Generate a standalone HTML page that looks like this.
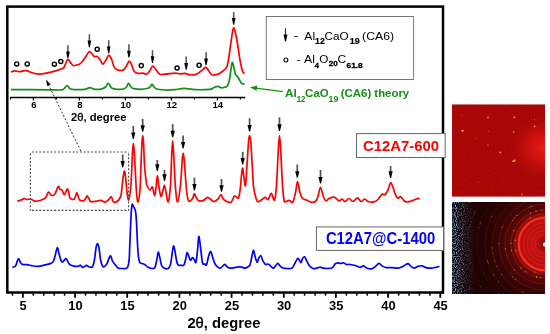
<!DOCTYPE html>
<html><head><meta charset="utf-8"><title>XRD</title>
<style>
html,body{margin:0;padding:0;background:#fff;}
body{width:550px;height:334px;overflow:hidden;}
svg{display:block;font-family:"Liberation Sans",Arial,sans-serif;}
</style></head><body>
<svg width="550" height="334" viewBox="0 0 550 334">
<defs>
<radialGradient id="glow1" cx="543" cy="148" r="34" gradientUnits="userSpaceOnUse">
<stop offset="0" stop-color="#ee1a14" stop-opacity="0.95"/>
<stop offset="0.5" stop-color="#d81410" stop-opacity="0.6"/>
<stop offset="1" stop-color="#a80606" stop-opacity="0"/>
</radialGradient>
<radialGradient id="rings" cx="545" cy="244" r="110" gradientUnits="userSpaceOnUse">
<stop offset="0" stop-color="#600606"/>
<stop offset="0.05" stop-color="#a80f0e"/>
<stop offset="0.1" stop-color="#c01210"/>
<stop offset="0.22" stop-color="#bc1010"/>
<stop offset="0.24" stop-color="#e01a14"/>
<stop offset="0.26" stop-color="#8a0c0a"/>
<stop offset="0.3" stop-color="#5a0808"/>
<stop offset="0.4" stop-color="#3a0606"/>
<stop offset="0.55" stop-color="#260404"/>
<stop offset="0.8" stop-color="#1a0303"/>
<stop offset="1" stop-color="#120303"/>
</radialGradient>
<linearGradient id="leftfade" x1="452" y1="0" x2="476" y2="0" gradientUnits="userSpaceOnUse">
<stop offset="0" stop-color="#fff" stop-opacity="1"/>
<stop offset="0.2" stop-color="#fff" stop-opacity="0.8"/>
<stop offset="0.5" stop-color="#fff" stop-opacity="0.4"/>
<stop offset="1" stop-color="#fff" stop-opacity="0"/>
</linearGradient>
<mask id="lmask"><rect x="452" y="202" width="30" height="92" fill="url(#leftfade)"/></mask>
<filter id="noise" x="0" y="0" width="100%" height="100%" color-interpolation-filters="sRGB">
<feTurbulence type="fractalNoise" baseFrequency="0.85" numOctaves="1" seed="4" result="t"/>
<feColorMatrix in="t" type="matrix" values="2.2 0 0 0 -0.95  2.4 0 0 0 -1.0  2.7 0 0 0 -1.08  0 0 0 0 1"/>
</filter>
<filter id="noise2" x="0" y="0" width="100%" height="100%" color-interpolation-filters="sRGB">
<feTurbulence type="fractalNoise" baseFrequency="0.7" numOctaves="1" seed="9" result="t"/>
<feColorMatrix in="t" type="matrix" values="0 0 0 0 1  0 0 0 0 0.3  0 0 0 0 0.2  1.2 0 0 0 -0.55"/>
</filter>
<clipPath id="clip2"><rect x="452" y="202" width="93" height="92"/></clipPath>
<clipPath id="clip1"><rect x="452" y="104.3" width="93" height="92.5"/></clipPath>
</defs>

<rect x="7.3" y="6.6" width="435.7" height="285.9" fill="none" stroke="#000" stroke-width="2.5"/>
<line x1="12.5" y1="292" x2="12.5" y2="295.7" stroke="#000" stroke-width="1.5"/><line x1="22.9" y1="292" x2="22.9" y2="297.8" stroke="#000" stroke-width="1.8"/><line x1="33.3" y1="292" x2="33.3" y2="295.7" stroke="#000" stroke-width="1.5"/><line x1="43.8" y1="292" x2="43.8" y2="295.7" stroke="#000" stroke-width="1.5"/><line x1="54.2" y1="292" x2="54.2" y2="295.7" stroke="#000" stroke-width="1.5"/><line x1="64.6" y1="292" x2="64.6" y2="295.7" stroke="#000" stroke-width="1.5"/><line x1="75.1" y1="292" x2="75.1" y2="297.8" stroke="#000" stroke-width="1.8"/><line x1="85.5" y1="292" x2="85.5" y2="295.7" stroke="#000" stroke-width="1.5"/><line x1="95.9" y1="292" x2="95.9" y2="295.7" stroke="#000" stroke-width="1.5"/><line x1="106.4" y1="292" x2="106.4" y2="295.7" stroke="#000" stroke-width="1.5"/><line x1="116.8" y1="292" x2="116.8" y2="295.7" stroke="#000" stroke-width="1.5"/><line x1="127.2" y1="292" x2="127.2" y2="297.8" stroke="#000" stroke-width="1.8"/><line x1="137.7" y1="292" x2="137.7" y2="295.7" stroke="#000" stroke-width="1.5"/><line x1="148.1" y1="292" x2="148.1" y2="295.7" stroke="#000" stroke-width="1.5"/><line x1="158.6" y1="292" x2="158.6" y2="295.7" stroke="#000" stroke-width="1.5"/><line x1="169.0" y1="292" x2="169.0" y2="295.7" stroke="#000" stroke-width="1.5"/><line x1="179.4" y1="292" x2="179.4" y2="297.8" stroke="#000" stroke-width="1.8"/><line x1="189.9" y1="292" x2="189.9" y2="295.7" stroke="#000" stroke-width="1.5"/><line x1="200.3" y1="292" x2="200.3" y2="295.7" stroke="#000" stroke-width="1.5"/><line x1="210.7" y1="292" x2="210.7" y2="295.7" stroke="#000" stroke-width="1.5"/><line x1="221.2" y1="292" x2="221.2" y2="295.7" stroke="#000" stroke-width="1.5"/><line x1="231.6" y1="292" x2="231.6" y2="297.8" stroke="#000" stroke-width="1.8"/><line x1="242.0" y1="292" x2="242.0" y2="295.7" stroke="#000" stroke-width="1.5"/><line x1="252.5" y1="292" x2="252.5" y2="295.7" stroke="#000" stroke-width="1.5"/><line x1="262.9" y1="292" x2="262.9" y2="295.7" stroke="#000" stroke-width="1.5"/><line x1="273.3" y1="292" x2="273.3" y2="295.7" stroke="#000" stroke-width="1.5"/><line x1="283.8" y1="292" x2="283.8" y2="297.8" stroke="#000" stroke-width="1.8"/><line x1="294.2" y1="292" x2="294.2" y2="295.7" stroke="#000" stroke-width="1.5"/><line x1="304.6" y1="292" x2="304.6" y2="295.7" stroke="#000" stroke-width="1.5"/><line x1="315.1" y1="292" x2="315.1" y2="295.7" stroke="#000" stroke-width="1.5"/><line x1="325.5" y1="292" x2="325.5" y2="295.7" stroke="#000" stroke-width="1.5"/><line x1="335.9" y1="292" x2="335.9" y2="297.8" stroke="#000" stroke-width="1.8"/><line x1="346.4" y1="292" x2="346.4" y2="295.7" stroke="#000" stroke-width="1.5"/><line x1="356.8" y1="292" x2="356.8" y2="295.7" stroke="#000" stroke-width="1.5"/><line x1="367.3" y1="292" x2="367.3" y2="295.7" stroke="#000" stroke-width="1.5"/><line x1="377.7" y1="292" x2="377.7" y2="295.7" stroke="#000" stroke-width="1.5"/><line x1="388.1" y1="292" x2="388.1" y2="297.8" stroke="#000" stroke-width="1.8"/><line x1="398.6" y1="292" x2="398.6" y2="295.7" stroke="#000" stroke-width="1.5"/><line x1="409.0" y1="292" x2="409.0" y2="295.7" stroke="#000" stroke-width="1.5"/><line x1="419.4" y1="292" x2="419.4" y2="295.7" stroke="#000" stroke-width="1.5"/><line x1="429.9" y1="292" x2="429.9" y2="295.7" stroke="#000" stroke-width="1.5"/><line x1="440.3" y1="292" x2="440.3" y2="297.8" stroke="#000" stroke-width="1.8"/>
<text x="23.2" y="310" text-anchor="middle" font-size="12.9" font-weight="bold">5</text><text x="75.4" y="310" text-anchor="middle" font-size="12.9" font-weight="bold">10</text><text x="127.5" y="310" text-anchor="middle" font-size="12.9" font-weight="bold">15</text><text x="179.7" y="310" text-anchor="middle" font-size="12.9" font-weight="bold">20</text><text x="231.9" y="310" text-anchor="middle" font-size="12.9" font-weight="bold">25</text><text x="284.1" y="310" text-anchor="middle" font-size="12.9" font-weight="bold">30</text><text x="336.2" y="310" text-anchor="middle" font-size="12.9" font-weight="bold">35</text><text x="388.4" y="310" text-anchor="middle" font-size="12.9" font-weight="bold">40</text><text x="440.6" y="310" text-anchor="middle" font-size="12.9" font-weight="bold">45</text>
<text x="187.39" y="327.70" font-size="14.80" font-weight="bold" fill="#000" textLength="73.02" lengthAdjust="spacingAndGlyphs">2<tspan font-weight="normal" stroke="#000" stroke-width="0.35">&#952;</tspan>, degree</text>
<line x1="10.4" y1="97.5" x2="245.3" y2="97.5" stroke="#000" stroke-width="1.4"/>
<line x1="10.4" y1="97" x2="10.4" y2="99.6" stroke="#000" stroke-width="1.1"/><line x1="33.4" y1="97" x2="33.4" y2="100.4" stroke="#000" stroke-width="1.2"/><line x1="56.4" y1="97" x2="56.4" y2="99.6" stroke="#000" stroke-width="1.1"/><line x1="79.4" y1="97" x2="79.4" y2="100.4" stroke="#000" stroke-width="1.2"/><line x1="102.4" y1="97" x2="102.4" y2="99.6" stroke="#000" stroke-width="1.1"/><line x1="125.4" y1="97" x2="125.4" y2="100.4" stroke="#000" stroke-width="1.2"/><line x1="148.4" y1="97" x2="148.4" y2="99.6" stroke="#000" stroke-width="1.1"/><line x1="171.4" y1="97" x2="171.4" y2="100.4" stroke="#000" stroke-width="1.2"/><line x1="194.4" y1="97" x2="194.4" y2="99.6" stroke="#000" stroke-width="1.1"/><line x1="217.4" y1="97" x2="217.4" y2="100.4" stroke="#000" stroke-width="1.2"/><line x1="240.4" y1="97" x2="240.4" y2="99.6" stroke="#000" stroke-width="1.1"/>
<text x="33.8" y="108.4" text-anchor="middle" font-size="9.6" font-weight="bold">6</text><text x="79.8" y="108.4" text-anchor="middle" font-size="9.6" font-weight="bold">8</text><text x="125.8" y="108.4" text-anchor="middle" font-size="9.6" font-weight="bold">10</text><text x="171.8" y="108.4" text-anchor="middle" font-size="9.6" font-weight="bold">12</text><text x="217.8" y="108.4" text-anchor="middle" font-size="9.6" font-weight="bold">14</text>
<text x="70.91" y="121.20" font-size="11.60" font-weight="bold" fill="#000" textLength="55.68" lengthAdjust="spacingAndGlyphs">2<tspan font-weight="normal" stroke="#000" stroke-width="0.35">&#952;</tspan>, degree</text>
<path d="M17.3,201.3 C17.9,201.1 19.8,200.4 21.0,200.0 C22.2,199.6 23.3,198.8 24.3,198.7 C25.3,198.6 26.0,199.4 27.0,199.5 C28.0,199.6 29.3,198.9 30.3,199.0 C31.3,199.1 32.1,199.9 33.0,200.3 C33.9,200.7 34.4,201.3 35.6,201.3 C36.8,201.3 38.8,200.8 40.0,200.5 C41.2,200.2 42.0,199.8 43.0,199.3 C44.0,198.8 44.9,198.8 45.8,197.6 C46.7,196.4 47.6,192.4 48.5,192.0 C49.4,191.6 50.2,194.9 51.2,195.3 C52.2,195.7 53.8,195.2 54.7,194.3 C55.6,193.5 55.9,191.5 56.5,190.2 C57.1,188.9 57.8,186.5 58.4,186.4 C59.0,186.3 59.5,188.9 60.1,189.5 C60.7,190.1 61.4,189.3 62.1,190.2 C62.8,191.1 63.5,194.9 64.4,194.7 C65.3,194.5 66.5,189.1 67.3,188.9 C68.0,188.7 68.4,192.0 68.9,193.6 C69.4,195.2 69.3,197.4 70.2,198.3 C71.1,199.2 73.2,199.9 74.3,199.0 C75.4,198.1 76.0,193.2 76.7,192.9 C77.4,192.6 77.8,195.8 78.3,197.0 C78.8,198.2 79.0,199.7 79.9,200.3 C80.8,200.9 82.8,200.9 83.7,200.7 C84.6,200.5 84.7,199.8 85.3,199.0 C85.9,198.2 86.5,195.9 87.1,195.9 C87.7,195.9 88.4,198.0 89.1,199.0 C89.8,200.0 89.8,201.4 91.1,201.7 C92.4,202.0 95.5,201.2 97.2,201.0 C98.9,200.8 99.7,200.2 101.0,200.4 C102.3,200.6 103.7,202.4 105.0,202.2 C106.3,202.0 108.0,200.1 109.0,199.2 C110.0,198.3 110.6,196.4 111.3,196.7 C112.0,197.0 112.4,200.2 113.0,201.2 C113.6,202.1 114.1,202.6 115.0,202.4 C115.9,202.2 117.5,201.3 118.5,200.1 C119.5,198.9 120.3,198.1 121.0,195.2 C121.7,192.3 122.0,186.5 122.5,182.5 C123.0,178.5 123.7,172.2 124.2,171.2 C124.7,170.2 125.1,173.4 125.5,176.5 C125.9,179.6 126.3,186.0 126.8,190.0 C127.3,194.0 127.9,200.4 128.5,200.4 C129.1,200.4 130.0,194.2 130.5,190.0 C131.0,185.8 131.2,181.3 131.5,175.0 C131.8,168.7 132.2,157.3 132.5,152.0 C132.8,146.7 133.0,143.3 133.3,143.3 C133.6,143.3 133.9,146.7 134.3,152.0 C134.7,157.3 135.1,168.3 135.5,175.0 C135.9,181.7 136.1,187.5 136.5,192.0 C136.9,196.5 137.4,202.2 138.0,201.9 C138.6,201.6 139.5,196.2 140.0,190.0 C140.5,183.8 140.7,173.0 141.0,165.0 C141.3,157.0 141.7,146.9 142.0,142.0 C142.3,137.1 142.4,135.5 142.7,135.5 C142.9,135.5 143.2,137.1 143.5,142.0 C143.8,146.9 144.1,158.7 144.5,165.0 C144.9,171.3 145.6,176.6 146.0,180.0 C146.4,183.4 146.3,183.8 147.0,185.5 C147.7,187.2 149.1,189.8 150.0,190.0 C150.9,190.2 151.8,186.1 152.5,187.0 C153.2,187.9 153.9,195.3 154.5,195.5 C155.1,195.7 155.5,191.2 156.0,188.0 C156.5,184.8 156.8,176.3 157.3,176.0 C157.8,175.7 158.2,182.6 158.8,186.0 C159.4,189.4 160.3,195.7 161.0,196.4 C161.7,197.1 162.4,191.8 163.0,190.0 C163.6,188.2 164.0,185.2 164.5,185.5 C165.0,185.8 165.4,189.3 166.0,192.0 C166.6,194.7 167.4,203.0 168.2,201.8 C168.9,200.6 169.9,192.8 170.5,185.0 C171.1,177.2 171.3,162.3 171.7,155.0 C172.1,147.7 172.4,140.9 172.7,140.9 C173.0,140.9 173.2,147.2 173.7,155.0 C174.2,162.8 174.8,180.2 175.5,188.0 C176.2,195.8 176.8,202.3 177.6,201.8 C178.4,201.3 179.7,192.0 180.5,185.0 C181.3,178.0 181.8,165.3 182.2,160.0 C182.6,154.7 182.8,153.1 183.1,153.1 C183.4,153.1 183.6,153.8 184.2,160.0 C184.8,166.2 185.8,183.2 186.5,190.0 C187.2,196.8 187.7,199.6 188.7,201.0 C189.7,202.4 191.8,199.4 192.7,198.2 C193.6,197.0 193.8,193.6 194.4,193.6 C195.0,193.6 195.7,196.8 196.5,198.0 C197.3,199.2 197.8,200.5 199.0,200.9 C200.2,201.3 202.1,201.0 203.6,200.4 C205.1,199.8 206.1,197.1 207.8,197.3 C209.5,197.5 211.9,201.2 213.6,201.5 C215.3,201.8 216.8,200.2 218.0,199.0 C219.2,197.8 220.2,194.6 221.0,194.5 C221.8,194.4 222.2,197.4 223.0,198.5 C223.8,199.6 224.2,200.3 225.5,200.9 C226.8,201.5 229.5,203.0 231.0,202.2 C232.5,201.4 233.3,196.7 234.5,196.0 C235.7,195.3 237.3,199.0 238.2,198.2 C239.1,197.3 239.4,194.8 240.0,190.9 C240.6,187.0 241.1,178.8 241.5,175.0 C241.9,171.2 242.3,167.7 242.7,168.2 C243.1,168.7 243.5,175.1 244.0,178.0 C244.5,180.9 245.0,187.7 245.5,185.5 C246.0,183.3 246.5,172.2 247.0,165.0 C247.5,157.8 248.1,146.9 248.5,142.0 C248.9,137.1 249.2,135.5 249.6,135.5 C250.0,135.5 250.3,136.2 250.8,142.0 C251.3,147.8 252.0,162.4 252.5,170.0 C253.0,177.6 253.0,182.6 253.6,187.3 C254.2,192.0 255.3,195.8 256.0,198.2 C256.7,200.6 256.9,201.7 258.0,201.8 C259.1,201.9 261.4,199.8 262.7,199.0 C263.9,198.2 264.6,197.2 265.5,197.3 C266.4,197.4 267.2,200.3 268.2,199.6 C269.2,198.9 270.2,193.2 271.3,193.3 C272.4,193.4 273.6,201.4 274.5,200.0 C275.4,198.6 275.9,193.3 276.5,185.0 C277.1,176.7 277.8,158.2 278.3,150.0 C278.8,141.8 279.1,135.5 279.5,135.5 C279.9,135.5 280.2,141.8 280.7,150.0 C281.2,158.2 281.9,176.7 282.5,185.0 C283.1,193.3 283.5,197.2 284.0,200.0 C284.5,202.8 284.7,201.7 285.5,201.8 C286.3,201.9 287.8,200.3 289.0,200.4 C290.2,200.5 291.6,203.5 292.7,202.2 C293.8,200.9 294.7,196.1 295.5,192.7 C296.3,189.2 296.8,181.5 297.5,181.5 C298.2,181.5 299.1,189.9 300.0,192.7 C300.9,195.5 301.6,197.3 302.7,198.5 C303.8,199.7 305.0,199.4 306.4,200.0 C307.8,200.6 309.5,201.9 311.0,202.2 C312.5,202.4 314.3,202.5 315.5,201.5 C316.7,200.5 317.2,198.8 318.0,196.4 C318.8,194.0 319.6,187.2 320.5,187.3 C321.4,187.5 322.7,195.0 323.6,197.3 C324.5,199.6 325.1,200.7 326.0,200.9 C326.9,201.1 327.6,199.1 329.0,198.5 C330.4,197.9 332.8,196.9 334.5,197.3 C336.2,197.7 337.8,200.6 339.0,200.9 C340.2,201.2 341.0,198.9 342.0,199.0 C343.0,199.1 343.8,201.6 345.0,201.5 C346.2,201.4 347.7,198.5 349.0,198.5 C350.3,198.5 351.6,201.6 353.0,201.5 C354.4,201.4 356.2,197.8 357.5,197.8 C358.8,197.8 359.8,201.3 361.0,201.5 C362.2,201.7 363.3,199.0 364.5,199.0 C365.7,199.0 366.5,201.0 368.0,201.5 C369.5,202.0 371.8,202.2 373.5,201.9 C375.2,201.6 376.6,200.8 378.0,199.5 C379.4,198.2 380.8,195.0 382.0,194.2 C383.2,193.4 384.0,195.4 385.0,194.7 C386.0,194.0 387.1,191.9 388.0,189.9 C388.9,187.9 389.8,183.1 390.6,182.7 C391.4,182.3 392.2,185.5 393.0,187.5 C393.8,189.5 394.7,192.9 395.5,194.7 C396.3,196.5 397.2,198.0 398.0,198.3 C398.8,198.6 399.6,196.4 400.4,196.6 C401.2,196.8 402.1,198.6 403.0,199.5 C403.9,200.4 404.8,201.6 406.0,201.9 C407.2,202.2 408.7,201.7 410.0,201.4 C411.3,201.1 412.7,200.5 414.0,200.0 C415.3,199.5 417.1,198.4 418.0,198.3 C418.9,198.2 419.2,199.3 419.5,199.5" fill="none" stroke="#ff0000" stroke-width="1.7" stroke-linejoin="round"/>
<path d="M12.4,267.6 C12.9,267.3 14.7,266.9 15.5,266.0 C16.3,265.1 16.5,263.1 17.0,261.9 C17.5,260.7 18.0,258.5 18.6,258.6 C19.2,258.7 19.8,261.4 20.4,262.4 C21.0,263.4 21.3,264.0 22.4,264.4 C23.5,264.8 25.4,264.5 27.0,264.7 C28.6,264.9 30.2,265.4 32.0,265.7 C33.8,266.0 36.0,266.4 38.0,266.3 C40.0,266.2 42.0,265.6 44.0,265.2 C46.0,264.8 48.5,264.2 50.0,263.6 C51.5,263.1 52.2,263.1 53.0,261.9 C53.8,260.7 54.3,258.6 55.0,256.2 C55.7,253.8 56.6,248.1 57.3,247.7 C58.0,247.3 58.4,251.6 59.0,253.7 C59.6,255.8 60.4,258.9 61.0,260.3 C61.6,261.7 62.0,262.2 62.8,261.9 C63.6,261.6 65.0,258.7 65.8,258.6 C66.6,258.5 67.0,260.1 67.6,261.1 C68.2,262.1 68.4,263.5 69.6,264.4 C70.8,265.3 73.4,266.0 75.0,266.3 C76.6,266.6 78.1,266.2 79.0,266.0 C79.9,265.8 79.8,265.0 80.5,265.2 C81.2,265.4 82.0,267.3 83.0,267.3 C84.0,267.3 85.5,265.5 86.5,265.4 C87.5,265.3 88.0,266.6 89.0,266.8 C90.0,267.0 91.6,268.0 92.5,266.8 C93.4,265.6 93.9,262.6 94.5,259.5 C95.1,256.4 95.5,250.7 96.0,248.0 C96.5,245.3 97.0,243.6 97.5,243.6 C98.0,243.6 98.5,245.3 99.0,248.0 C99.5,250.7 100.0,256.6 100.5,259.5 C101.0,262.4 101.7,264.5 102.3,265.7 C102.9,266.9 103.2,267.1 104.0,266.8 C104.8,266.5 106.0,265.4 107.0,263.6 C108.0,261.8 109.4,256.3 110.3,255.9 C111.2,255.5 111.7,259.7 112.5,261.1 C113.3,262.5 114.1,263.2 115.0,264.4 C115.9,265.5 116.8,267.3 118.0,268.0 C119.2,268.7 120.5,268.5 122.0,268.5 C123.5,268.5 125.8,269.2 127.0,268.0 C128.2,266.8 128.5,264.9 129.0,261.1 C129.5,257.3 129.5,251.0 129.8,245.0 C130.1,239.0 130.3,231.0 130.6,225.0 C130.9,219.0 131.2,212.4 131.5,209.0 C131.8,205.6 131.9,204.7 132.2,204.3 C132.5,203.9 133.0,205.4 133.5,206.5 C134.0,207.6 134.9,208.1 135.4,210.7 C135.9,213.3 136.2,217.1 136.5,222.0 C136.8,226.9 137.0,234.2 137.3,240.0 C137.6,245.8 138.1,253.2 138.5,257.0 C138.9,260.8 139.3,261.6 140.0,262.7 C140.7,263.8 141.7,263.3 142.5,263.6 C143.3,263.9 144.1,264.1 145.0,264.7 C145.9,265.3 146.8,266.7 148.0,267.3 C149.2,267.9 150.8,268.5 152.0,268.5 C153.2,268.5 154.2,268.9 155.0,267.3 C155.8,265.7 156.5,261.1 157.0,258.6 C157.5,256.1 157.8,252.4 158.2,252.1 C158.6,251.8 159.1,254.8 159.7,257.0 C160.2,259.2 160.8,263.4 161.5,265.2 C162.2,267.0 162.9,267.4 164.0,268.0 C165.1,268.6 166.9,269.1 168.0,268.5 C169.1,267.9 169.8,266.7 170.5,264.4 C171.2,262.1 171.5,257.6 172.0,254.5 C172.5,251.4 173.0,246.5 173.5,246.0 C174.0,245.5 174.5,248.9 175.0,251.3 C175.5,253.7 176.0,258.1 176.5,260.4 C177.0,262.7 177.2,264.1 178.0,264.9 C178.8,265.7 180.0,265.3 181.0,265.3 C182.0,265.3 183.2,266.2 184.0,264.9 C184.8,263.6 185.5,259.7 186.0,257.7 C186.5,255.7 186.5,252.8 187.0,252.7 C187.5,252.5 188.4,255.5 189.0,256.8 C189.6,258.1 189.9,260.2 190.5,260.4 C191.1,260.5 191.8,257.8 192.5,257.7 C193.2,257.6 193.9,259.1 194.5,259.9 C195.1,260.6 195.5,263.8 196.0,262.2 C196.5,260.6 197.0,254.8 197.5,250.5 C198.0,246.2 198.3,237.1 198.8,236.5 C199.3,235.9 199.9,242.5 200.5,246.9 C201.1,251.3 201.8,259.9 202.5,262.8 C203.2,265.7 204.3,263.6 205.0,264.0 C205.7,264.4 205.9,266.1 206.5,264.9 C207.1,263.7 207.8,259.1 208.5,256.8 C209.2,254.6 209.8,251.4 210.5,251.4 C211.2,251.4 211.8,254.7 212.5,256.8 C213.2,258.9 214.0,262.2 215.0,264.0 C216.0,265.8 217.6,266.9 218.5,267.6 C219.4,268.3 219.7,268.5 220.5,268.1 C221.3,267.7 222.8,265.9 223.5,265.3 C224.2,264.7 224.2,264.1 225.0,264.5 C225.8,264.9 226.8,267.0 228.0,267.6 C229.2,268.2 230.5,268.2 232.0,268.1 C233.5,268.0 235.4,267.3 237.0,267.1 C238.6,266.9 240.2,266.9 241.5,267.1 C242.8,267.3 243.9,268.2 245.0,268.1 C246.1,268.0 247.2,267.2 248.0,266.7 C248.8,266.2 249.3,266.7 250.0,264.9 C250.7,263.1 251.4,258.4 252.0,255.9 C252.6,253.5 253.0,250.2 253.5,250.2 C254.0,250.2 254.4,253.9 255.0,255.9 C255.6,257.9 256.3,261.9 257.0,262.2 C257.7,262.5 258.3,258.8 259.0,257.7 C259.7,256.6 260.3,255.3 261.0,255.9 C261.7,256.4 262.2,259.6 263.0,261.0 C263.8,262.4 264.7,264.0 265.5,264.5 C266.3,265.0 267.2,263.8 268.0,264.0 C268.8,264.2 269.6,265.1 270.5,265.8 C271.4,266.5 272.3,268.5 273.5,268.1 C274.7,267.7 276.4,263.9 277.5,263.5 C278.6,263.1 279.1,265.1 280.0,265.8 C280.9,266.6 281.8,267.6 283.0,268.0 C284.2,268.4 285.5,268.5 287.0,268.5 C288.5,268.5 290.8,268.9 292.0,268.1 C293.2,267.4 293.6,265.6 294.5,264.0 C295.4,262.4 296.7,259.2 297.5,258.6 C298.3,258.0 298.9,259.7 299.5,260.4 C300.1,261.1 300.5,262.9 301.0,262.6 C301.5,262.3 301.9,259.6 302.5,258.6 C303.1,257.6 303.8,256.5 304.5,256.8 C305.2,257.1 305.7,258.9 306.5,260.4 C307.3,261.9 308.4,264.4 309.5,265.8 C310.6,267.2 311.8,268.1 313.0,268.5 C314.2,268.9 315.8,268.3 317.0,268.1 C318.2,267.9 319.0,267.1 320.0,267.1 C321.0,267.1 321.7,267.9 323.0,268.1 C324.3,268.3 326.4,268.6 328.0,268.5 C329.6,268.4 331.3,268.4 332.5,267.6 C333.7,266.9 334.1,264.8 335.0,264.0 C335.9,263.2 337.1,262.9 338.0,262.8 C338.9,262.7 339.6,263.5 340.5,263.5 C341.4,263.5 342.5,262.6 343.5,262.8 C344.5,263.0 345.4,264.2 346.5,264.5 C347.6,264.8 348.6,264.3 350.0,264.5 C351.4,264.7 353.3,265.0 355.0,265.5 C356.7,266.0 358.6,267.2 360.0,267.3 C361.4,267.4 362.3,265.7 363.5,265.8 C364.7,265.9 365.6,267.7 367.0,268.2 C368.4,268.7 370.6,269.0 372.0,268.7 C373.4,268.4 374.3,267.3 375.5,266.4 C376.7,265.5 377.9,263.4 379.0,263.3 C380.1,263.2 380.8,265.1 382.0,265.8 C383.2,266.5 384.3,267.3 386.0,267.6 C387.7,267.9 390.2,267.5 392.0,267.6 C393.8,267.7 395.5,268.2 397.0,268.2 C398.5,268.1 399.8,267.8 401.0,267.3 C402.2,266.9 403.3,266.1 404.5,265.5 C405.7,264.9 406.9,263.5 408.0,263.6 C409.1,263.8 410.0,265.6 411.0,266.4 C412.0,267.2 412.8,268.2 414.0,268.2 C415.2,268.2 416.7,266.8 418.0,266.4 C419.3,266.0 420.7,265.6 422.0,265.8 C423.3,266.0 424.5,267.2 426.0,267.6 C427.5,268.0 429.3,268.2 431.0,268.2 C432.7,268.1 434.6,267.6 436.0,267.3 C437.4,267.0 438.9,266.5 439.5,266.4" fill="none" stroke="#0000ff" stroke-width="1.7" stroke-linejoin="round"/>
<path d="M11.0,72.1 C11.6,71.9 13.3,71.0 14.7,70.9 C16.1,70.8 17.6,71.8 19.2,71.7 C20.8,71.7 23.1,70.7 24.5,70.6 C25.9,70.5 26.4,70.6 27.5,70.9 C28.6,71.2 29.1,71.9 31.0,72.4 C32.9,73.0 36.2,74.1 38.7,74.2 C41.2,74.3 44.0,73.6 46.0,73.2 C48.0,72.8 49.2,72.5 51.0,72.1 C52.8,71.7 55.0,71.1 56.7,70.6 C58.4,70.1 59.8,69.7 61.0,69.1 C62.2,68.5 62.9,68.8 64.0,67.2 C65.1,65.6 66.5,60.5 67.6,59.7 C68.7,59.0 69.5,61.7 70.5,62.7 C71.5,63.7 72.4,65.4 73.6,65.7 C74.8,66.0 76.8,64.9 77.8,64.6 C78.8,64.3 78.6,64.8 79.5,64.1 C80.4,63.4 81.8,62.2 83.0,60.7 C84.2,59.2 85.4,56.9 86.5,55.4 C87.6,53.9 88.5,51.9 89.4,51.7 C90.4,51.5 91.4,53.2 92.2,54.0 C93.0,54.8 93.3,56.2 94.2,56.6 C95.1,57.0 96.4,55.9 97.5,56.6 C98.6,57.3 99.8,59.5 100.7,60.7 C101.6,62.0 102.0,64.3 103.0,64.1 C104.0,63.8 105.4,60.7 106.4,59.2 C107.4,57.7 108.0,55.1 108.8,55.1 C109.6,55.1 110.6,57.3 111.5,59.2 C112.4,61.1 113.1,65.0 114.0,66.7 C114.9,68.5 115.5,69.1 117.0,69.7 C118.5,70.3 121.4,70.7 123.0,70.1 C124.6,69.5 125.5,67.4 126.5,65.9 C127.5,64.4 128.4,61.2 129.3,61.1 C130.2,61.0 131.0,63.5 131.8,65.2 C132.6,66.9 133.0,69.8 134.0,71.2 C135.0,72.6 136.5,73.1 138.0,73.4 C139.5,73.7 141.6,73.0 143.0,73.1 C144.4,73.2 145.4,74.7 146.6,74.2 C147.8,73.8 149.0,71.7 150.0,70.4 C151.0,69.1 151.8,66.3 152.8,66.2 C153.8,66.1 154.8,68.4 156.0,69.7 C157.2,71.0 158.3,73.5 159.8,74.2 C161.3,75.0 162.9,74.3 165.0,74.2 C167.1,74.1 170.6,73.6 172.5,73.4 C174.4,73.2 174.9,73.0 176.2,73.1 C177.4,73.2 178.5,73.9 180.0,73.9 C181.5,74.0 183.3,73.2 185.0,73.4 C186.7,73.6 188.3,74.7 190.0,74.9 C191.7,75.1 193.5,75.0 195.0,74.6 C196.5,74.2 197.7,73.5 199.0,72.7 C200.3,71.9 201.9,70.6 203.0,69.7 C204.1,68.8 204.8,67.0 205.7,67.1 C206.6,67.2 207.5,69.2 208.5,70.4 C209.5,71.7 210.4,73.8 211.5,74.6 C212.6,75.3 213.6,75.1 215.0,74.9 C216.4,74.7 218.5,74.0 220.0,73.2 C221.5,72.4 222.8,71.2 224.0,70.1 C225.2,69.0 226.2,68.8 227.0,66.5 C227.8,64.2 228.3,60.5 229.0,56.4 C229.7,52.3 230.2,46.5 231.0,41.8 C231.8,37.1 232.7,29.2 233.5,28.1 C234.3,27.1 235.2,31.8 236.0,35.5 C236.8,39.2 237.8,45.7 238.5,50.2 C239.2,54.7 239.8,59.2 240.5,62.7 C241.2,66.2 241.8,69.3 242.5,71.1 C243.2,72.9 244.2,73.2 244.5,73.6" fill="none" stroke="#ff0000" stroke-width="1.7" stroke-linejoin="round"/>
<path d="M11.0,89.6 C14.2,89.6 23.5,89.6 30.0,89.6 C36.5,89.6 45.0,89.7 50.0,89.8 C55.0,89.9 57.8,90.1 60.0,90.0 C62.2,89.9 62.3,90.0 63.5,89.3 C64.7,88.5 65.9,85.6 67.0,85.5 C68.1,85.4 68.7,88.1 70.0,88.8 C71.3,89.5 72.5,89.5 75.0,89.6 C77.5,89.7 82.5,89.6 85.0,89.3 C87.5,89.0 88.3,87.7 90.0,87.7 C91.7,87.7 93.0,89.1 95.0,89.3 C97.0,89.5 100.2,89.2 102.0,88.8 C103.8,88.4 104.5,87.9 105.5,87.0 C106.5,86.1 107.2,83.2 108.3,83.4 C109.4,83.6 110.4,87.3 112.0,88.3 C113.6,89.3 116.0,89.2 118.0,89.3 C120.0,89.4 122.6,89.2 124.0,88.8 C125.4,88.4 125.7,87.9 126.5,87.0 C127.3,86.1 127.7,83.2 128.6,83.4 C129.5,83.6 130.1,87.0 132.0,88.0 C133.9,89.0 137.3,89.2 140.0,89.3 C142.7,89.3 146.2,88.8 148.0,88.3 C149.8,87.8 149.8,87.2 150.5,86.5 C151.2,85.8 151.1,84.0 152.0,84.4 C152.9,84.8 153.8,87.9 156.0,88.8 C158.2,89.7 161.8,89.9 165.0,90.0 C168.2,90.1 171.8,89.9 175.0,89.6 C178.2,89.3 180.7,88.3 184.0,88.3 C187.3,88.3 190.7,89.4 195.0,89.6 C199.3,89.8 206.8,89.6 210.0,89.3 C213.2,89.0 212.8,88.0 214.0,87.5 C215.2,87.0 216.3,86.4 217.5,86.4 C218.7,86.4 219.9,87.5 221.0,87.7 C222.1,87.9 222.9,87.8 224.0,87.5 C225.1,87.2 226.6,87.1 227.5,85.8 C228.4,84.5 228.9,82.3 229.5,79.5 C230.1,76.7 230.5,71.9 231.0,69.0 C231.5,66.1 231.8,62.5 232.3,62.3 C232.8,62.1 233.5,66.0 234.0,68.0 C234.5,70.0 234.9,72.9 235.5,74.3 C236.1,75.7 236.8,75.5 237.5,76.4 C238.2,77.4 238.8,78.8 239.5,80.0 C240.2,81.2 240.7,82.6 241.5,83.3 C242.3,84.0 244.0,84.1 244.5,84.3" fill="none" stroke="#119011" stroke-width="1.7" stroke-linejoin="round"/>
<line x1="122.7" y1="154.5" x2="122.7" y2="161.6" stroke="#505050" stroke-width="1.7"/><polygon points="120.6,161.0 124.8,161.0 123.2,167.6 122.2,167.6" fill="#000"/><line x1="133.3" y1="126.0" x2="133.3" y2="133.1" stroke="#505050" stroke-width="1.7"/><polygon points="131.2,132.5 135.4,132.5 133.8,139.1 132.8,139.1" fill="#000"/><line x1="142.7" y1="119.0" x2="142.7" y2="125.8" stroke="#505050" stroke-width="1.7"/><polygon points="140.6,125.2 144.8,125.2 143.2,131.8 142.2,131.8" fill="#000"/><line x1="157.3" y1="160.0" x2="157.3" y2="164.9" stroke="#505050" stroke-width="1.7"/><polygon points="155.2,164.3 159.4,164.3 157.8,170.9 156.8,170.9" fill="#000"/><line x1="164.5" y1="170.0" x2="164.5" y2="174.9" stroke="#505050" stroke-width="1.7"/><polygon points="162.4,174.3 166.6,174.3 165.0,180.9 164.0,180.9" fill="#000"/><line x1="172.7" y1="124.2" x2="172.7" y2="131.3" stroke="#505050" stroke-width="1.7"/><polygon points="170.6,130.7 174.8,130.7 173.2,137.3 172.2,137.3" fill="#000"/><line x1="183.1" y1="135.5" x2="183.1" y2="142.5" stroke="#505050" stroke-width="1.7"/><polygon points="181.0,141.9 185.2,141.9 183.6,148.5 182.6,148.5" fill="#000"/><line x1="194.4" y1="177.6" x2="194.4" y2="184.5" stroke="#505050" stroke-width="1.7"/><polygon points="192.3,183.9 196.5,183.9 194.9,190.5 193.9,190.5" fill="#000"/><line x1="221.5" y1="179.0" x2="221.5" y2="185.8" stroke="#505050" stroke-width="1.7"/><polygon points="219.4,185.2 223.6,185.2 222.0,191.8 221.0,191.8" fill="#000"/><line x1="242.7" y1="151.8" x2="242.7" y2="158.5" stroke="#505050" stroke-width="1.7"/><polygon points="240.6,157.9 244.8,157.9 243.2,164.5 242.2,164.5" fill="#000"/><line x1="249.6" y1="118.2" x2="249.6" y2="125.5" stroke="#505050" stroke-width="1.7"/><polygon points="247.5,124.9 251.7,124.9 250.1,131.5 249.1,131.5" fill="#000"/><line x1="279.5" y1="117.3" x2="279.5" y2="124.9" stroke="#505050" stroke-width="1.7"/><polygon points="277.4,124.3 281.6,124.3 280.0,130.9 279.0,130.9" fill="#000"/><line x1="297.3" y1="164.5" x2="297.3" y2="171.8" stroke="#505050" stroke-width="1.7"/><polygon points="295.2,171.2 299.4,171.2 297.8,177.8 296.8,177.8" fill="#000"/><line x1="320.5" y1="170.0" x2="320.5" y2="177.6" stroke="#505050" stroke-width="1.7"/><polygon points="318.4,177.0 322.6,177.0 321.0,183.6 320.0,183.6" fill="#000"/><line x1="390.6" y1="166.0" x2="390.6" y2="171.9" stroke="#505050" stroke-width="1.7"/><polygon points="388.5,171.3 392.7,171.3 391.1,177.9 390.1,177.9" fill="#000"/>
<line x1="67.9" y1="45.2" x2="67.9" y2="52.2" stroke="#505050" stroke-width="1.5"/><polygon points="66.1,51.6 69.8,51.6 68.4,58.2 67.4,58.2" fill="#000"/><line x1="89.4" y1="34.2" x2="89.4" y2="41.2" stroke="#505050" stroke-width="1.5"/><polygon points="87.6,40.6 91.2,40.6 89.9,47.2 88.9,47.2" fill="#000"/><line x1="108.7" y1="40.2" x2="108.7" y2="47.2" stroke="#505050" stroke-width="1.5"/><polygon points="106.9,46.6 110.5,46.6 109.2,53.2 108.2,53.2" fill="#000"/><line x1="128.9" y1="44.2" x2="128.9" y2="51.4" stroke="#505050" stroke-width="1.5"/><polygon points="127.1,50.8 130.8,50.8 129.4,57.4 128.4,57.4" fill="#000"/><line x1="152.5" y1="50.2" x2="152.5" y2="56.9" stroke="#505050" stroke-width="1.5"/><polygon points="150.7,56.3 154.3,56.3 153.0,62.9 152.0,62.9" fill="#000"/><line x1="186.2" y1="56.6" x2="186.2" y2="63.7" stroke="#505050" stroke-width="1.5"/><polygon points="184.3,63.1 188.0,63.1 186.7,69.7 185.7,69.7" fill="#000"/><line x1="206.1" y1="52.2" x2="206.1" y2="59.2" stroke="#505050" stroke-width="1.5"/><polygon points="204.2,58.6 207.9,58.6 206.6,65.2 205.6,65.2" fill="#000"/><line x1="233.7" y1="12.0" x2="233.7" y2="18.7" stroke="#505050" stroke-width="1.5"/><polygon points="231.8,18.1 235.5,18.1 234.2,24.7 233.2,24.7" fill="#000"/>
<circle cx="16.7" cy="63.9" r="2.05" fill="none" stroke="#000" stroke-width="1.45"/><circle cx="27.2" cy="63.9" r="2.05" fill="none" stroke="#000" stroke-width="1.45"/><circle cx="54.4" cy="64.2" r="2.05" fill="none" stroke="#000" stroke-width="1.45"/><circle cx="60.8" cy="61.5" r="2.05" fill="none" stroke="#000" stroke-width="1.45"/><circle cx="97.2" cy="49.2" r="2.05" fill="none" stroke="#000" stroke-width="1.45"/><circle cx="141.3" cy="65.6" r="2.05" fill="none" stroke="#000" stroke-width="1.45"/><circle cx="177.1" cy="68.0" r="2.05" fill="none" stroke="#000" stroke-width="1.45"/><circle cx="199.1" cy="65.3" r="2.05" fill="none" stroke="#000" stroke-width="1.45"/>
<line x1="30.4" y1="152" x2="128.6" y2="152" stroke="#4a4a4a" stroke-width="1.15" stroke-dasharray="2,1.7" stroke-dashoffset="2.2"/>
<line x1="30.4" y1="152" x2="30.4" y2="210.4" stroke="#4a4a4a" stroke-width="1.15" stroke-dasharray="2,1.7" stroke-dashoffset="2.2"/>
<line x1="30.4" y1="210.4" x2="128.6" y2="210.4" stroke="#4a4a4a" stroke-width="1.15" stroke-dasharray="2,1.7" stroke-dashoffset="2.2"/>
<line x1="128.6" y1="152" x2="128.6" y2="210.4" stroke="#4a4a4a" stroke-width="1.15" stroke-dasharray="2,1.7" stroke-dashoffset="2.2"/>
<line x1="80.8" y1="151" x2="48.6" y2="85" stroke="#333" stroke-width="1" stroke-dasharray="2,1.8"/>
<polygon points="46,79.4 47.2,86.1 50.6,84.4" fill="#000"/>
<rect x="266.3" y="16.5" width="147.3" height="63" fill="#fff" stroke="#777" stroke-width="1"/>
<line x1="285.5" y1="28.2" x2="285.5" y2="35.0" stroke="#333" stroke-width="1.2"/><polygon points="283.6,34.4 287.4,34.4 286.0,41.6 285.0,41.6" fill="#000"/>
<circle cx="285.9" cy="60" r="1.95" fill="none" stroke="#000" stroke-width="1.1"/>
<text x="293.54" y="38.90" font-size="11.20" fill="#000" textLength="4.91" lengthAdjust="spacingAndGlyphs">-</text><text x="304.38" y="39.60" font-size="11.20" fill="#000" textLength="10.84" lengthAdjust="spacingAndGlyphs">Al</text><text x="315.05" y="44.20" font-size="9.00" font-weight="bold" fill="#000" stroke="#000" stroke-width="0.20" textLength="9.70" lengthAdjust="spacingAndGlyphs">12</text><text x="324.50" y="39.60" font-size="11.20" fill="#000" textLength="24.26" lengthAdjust="spacingAndGlyphs">CaO</text><text x="349.84" y="44.20" font-size="9.00" font-weight="bold" fill="#000" stroke="#000" stroke-width="0.20" textLength="9.89" lengthAdjust="spacingAndGlyphs">19</text><text x="362.14" y="39.60" font-size="11.20" fill="#000" textLength="32.02" lengthAdjust="spacingAndGlyphs">(CA6)</text><text x="296.54" y="63.00" font-size="11.20" fill="#000" textLength="4.23" lengthAdjust="spacingAndGlyphs">-</text><text x="303.98" y="63.00" font-size="11.20" fill="#000" textLength="10.95" lengthAdjust="spacingAndGlyphs">Al</text><text x="314.78" y="67.50" font-size="7.60" font-weight="bold" fill="#000" stroke="#000" stroke-width="0.30" textLength="4.26" lengthAdjust="spacingAndGlyphs">4</text><text x="319.24" y="63.00" font-size="11.20" fill="#000" textLength="9.12" lengthAdjust="spacingAndGlyphs">O</text><text x="328.82" y="65.80" font-size="7.60" font-weight="bold" fill="#000" stroke="#000" stroke-width="0.30" textLength="9.12" lengthAdjust="spacingAndGlyphs">20</text><text x="337.59" y="63.00" font-size="11.20" fill="#000" textLength="8.67" lengthAdjust="spacingAndGlyphs">C</text><text x="346.60" y="67.90" font-size="7.60" font-weight="bold" fill="#000" stroke="#000" stroke-width="0.30" textLength="16.06" lengthAdjust="spacingAndGlyphs">61.8</text>
<line x1="282.7" y1="91.7" x2="256" y2="88.2" stroke="#119011" stroke-width="1.3"/>
<polygon points="250,87.3 257.3,85.6 256.6,90.8" fill="#119011"/>
<text x="285.01" y="97.00" font-size="11.40" font-weight="bold" fill="#119011" textLength="11.83" lengthAdjust="spacingAndGlyphs">Al</text><text x="296.81" y="101.80" font-size="9.40" font-weight="bold" fill="#119011" textLength="8.60" lengthAdjust="spacingAndGlyphs">12</text><text x="305.13" y="97.00" font-size="11.40" font-weight="bold" fill="#119011" textLength="23.55" lengthAdjust="spacingAndGlyphs">CaO</text><text x="328.55" y="101.70" font-size="9.40" font-weight="bold" fill="#119011" textLength="9.78" lengthAdjust="spacingAndGlyphs">19</text><text x="340.83" y="97.00" font-size="11.40" font-weight="bold" fill="#119011" textLength="68.33" lengthAdjust="spacingAndGlyphs">(CA6) theory</text>
<rect x="356.5" y="133.6" width="88.7" height="23.9" fill="#fff" stroke="#666" stroke-width="1"/>
<text x="362.99" y="151.00" font-size="15.50" font-weight="bold" fill="#ff0000" textLength="76.12" lengthAdjust="spacingAndGlyphs">C12A7-600</text>
<rect x="316.4" y="226.9" width="127.2" height="23.5" fill="#fff" stroke="#666" stroke-width="1"/>
<text x="325.89" y="243.90" font-size="15.60" font-weight="bold" fill="#0000ff" textLength="109.42" lengthAdjust="spacingAndGlyphs">C12A7@C-1400</text>
<g clip-path="url(#clip1)"><rect x="452" y="104.3" width="93" height="92.5" fill="#a60606"/><rect x="452" y="104.3" width="93" height="92.5" fill="url(#glow1)"/><rect x="452" y="104.3" width="93" height="92.5" filter="url(#noise2)" opacity="0.35"/><circle cx="462.6" cy="130.8" r="1.1" fill="#ffa838"/><circle cx="488.0" cy="117.4" r="0.9" fill="#ff9030"/><circle cx="514.4" cy="117.4" r="0.9" fill="#ff9030"/><circle cx="534.7" cy="126.3" r="0.9" fill="#ffa030"/><circle cx="513.5" cy="132.0" r="0.8" fill="#f88028"/><circle cx="488.3" cy="131.4" r="0.6" fill="#e05020"/><circle cx="488.0" cy="145.0" r="0.7" fill="#e86020"/><circle cx="500.3" cy="152.4" r="0.9" fill="#ff9830"/><circle cx="475.4" cy="138.3" r="0.6" fill="#d84818"/><circle cx="478.4" cy="182.3" r="0.6" fill="#d85018"/><circle cx="521.9" cy="194.3" r="0.9" fill="#f87028"/><circle cx="534.4" cy="119.5" r="0.6" fill="#e05020"/><circle cx="462.0" cy="115.0" r="0.6" fill="#d84818"/><circle cx="513.7" cy="132.0" r="0.7" fill="#f07828"/><ellipse cx="514" cy="160.8" rx="1.8" ry="1" transform="rotate(-25 514 160.8)" fill="#ffa030"/></g>
<g clip-path="url(#clip2)"><rect x="452" y="202" width="93" height="92" fill="url(#rings)"/><circle cx="545" cy="244" r="10.0" fill="none" stroke="#ff3020" stroke-opacity="0.35" stroke-width="1.0"/><circle cx="545" cy="244" r="13.5" fill="none" stroke="#ff3020" stroke-opacity="0.35" stroke-width="1.0"/><circle cx="545" cy="244" r="17.5" fill="none" stroke="#ff3020" stroke-opacity="0.35" stroke-width="1.0"/><circle cx="545" cy="244" r="21.5" fill="none" stroke="#ff3020" stroke-opacity="0.40" stroke-width="1.0"/><circle cx="545" cy="244" r="26.3" fill="none" stroke="#ff3a22" stroke-opacity="0.90" stroke-width="1.6"/><circle cx="545" cy="244" r="30.0" fill="none" stroke="#d01810" stroke-opacity="0.60" stroke-width="1.1"/><circle cx="545" cy="244" r="34.0" fill="none" stroke="#c81610" stroke-opacity="0.55" stroke-width="1.0"/><circle cx="545" cy="244" r="40.0" fill="none" stroke="#b81410" stroke-opacity="0.50" stroke-width="1.0"/><circle cx="545" cy="244" r="46.0" fill="none" stroke="#a81210" stroke-opacity="0.45" stroke-width="1.0"/><circle cx="545" cy="244" r="53.0" fill="none" stroke="#981010" stroke-opacity="0.40" stroke-width="1.0"/><circle cx="545" cy="244" r="60.0" fill="none" stroke="#801010" stroke-opacity="0.35" stroke-width="1.0"/><circle cx="545" cy="244" r="68.0" fill="none" stroke="#701010" stroke-opacity="0.28" stroke-width="1.0"/><circle cx="545" cy="244" r="77.0" fill="none" stroke="#601010" stroke-opacity="0.25" stroke-width="1.0"/><circle cx="545" cy="244" r="86.0" fill="none" stroke="#501010" stroke-opacity="0.20" stroke-width="1.0"/><circle cx="530.6" cy="302.3" r="0.7" fill="#ffa030" fill-opacity="0.35"/><circle cx="483.7" cy="273.4" r="0.7" fill="#ffa030" fill-opacity="0.25"/><circle cx="525.3" cy="271.7" r="0.7" fill="#ffa030" fill-opacity="0.68"/><circle cx="513.7" cy="230.8" r="0.7" fill="#ffa030" fill-opacity="0.68"/><circle cx="534.6" cy="272.1" r="0.7" fill="#ffa030" fill-opacity="0.73"/><circle cx="535.9" cy="198.9" r="0.7" fill="#ffa030" fill-opacity="0.53"/><circle cx="479.0" cy="227.7" r="0.7" fill="#ffa030" fill-opacity="0.25"/><circle cx="528.9" cy="200.9" r="0.7" fill="#ffa030" fill-opacity="0.53"/><circle cx="527.3" cy="178.3" r="0.7" fill="#ffa030" fill-opacity="0.25"/><circle cx="536.8" cy="277.0" r="0.7" fill="#ffa030" fill-opacity="0.68"/><circle cx="515.8" cy="250.8" r="0.7" fill="#ffa030" fill-opacity="0.73"/><circle cx="529.2" cy="177.9" r="0.7" fill="#ffa030" fill-opacity="0.25"/><circle cx="534.7" cy="199.2" r="0.7" fill="#ffa030" fill-opacity="0.53"/><circle cx="512.5" cy="220.6" r="0.7" fill="#ffa030" fill-opacity="0.60"/><circle cx="505.3" cy="248.8" r="0.7" fill="#ffa030" fill-opacity="0.60"/><circle cx="492.8" cy="253.4" r="0.7" fill="#ffa030" fill-opacity="0.44"/><circle cx="529.7" cy="207.1" r="0.7" fill="#ffa030" fill-opacity="0.60"/><circle cx="502.3" cy="227.0" r="0.7" fill="#ffa030" fill-opacity="0.53"/><circle cx="511.6" cy="250.5" r="0.7" fill="#ffa030" fill-opacity="0.68"/><circle cx="499.0" cy="243.5" r="0.7" fill="#ffa030" fill-opacity="0.53"/><circle cx="498.7" cy="293.8" r="0.7" fill="#ffa030" fill-opacity="0.25"/><circle cx="470.5" cy="263.3" r="0.7" fill="#ffa030" fill-opacity="0.25"/><circle cx="474.4" cy="213.3" r="0.7" fill="#ffa030" fill-opacity="0.25"/><circle cx="515.5" cy="279.3" r="0.7" fill="#ffa030" fill-opacity="0.53"/><circle cx="530.1" cy="200.5" r="0.7" fill="#ffa030" fill-opacity="0.53"/><circle cx="492.1" cy="248.0" r="0.7" fill="#ffa030" fill-opacity="0.44"/><circle cx="498.4" cy="281.8" r="0.7" fill="#ffa030" fill-opacity="0.35"/><circle cx="494.7" cy="260.8" r="0.7" fill="#ffa030" fill-opacity="0.44"/><circle cx="530.6" cy="213.2" r="0.7" fill="#ffa030" fill-opacity="0.68"/><circle cx="507.9" cy="187.0" r="0.7" fill="#ffa030" fill-opacity="0.25"/><circle cx="514.2" cy="192.5" r="0.7" fill="#ffa030" fill-opacity="0.35"/><circle cx="470.1" cy="226.3" r="0.7" fill="#ffa030" fill-opacity="0.25"/><circle cx="520.9" cy="268.0" r="0.7" fill="#ffa030" fill-opacity="0.68"/><circle cx="491.6" cy="216.6" r="0.7" fill="#ffa030" fill-opacity="0.35"/><circle cx="487.3" cy="260.6" r="0.7" fill="#ffa030" fill-opacity="0.35"/><circle cx="522.9" cy="170.2" r="0.7" fill="#ffa030" fill-opacity="0.25"/><circle cx="536.5" cy="276.9" r="0.7" fill="#ffa030" fill-opacity="0.68"/><circle cx="480.8" cy="286.5" r="0.7" fill="#ffa030" fill-opacity="0.25"/><circle cx="536.0" cy="211.2" r="0.7" fill="#ffa030" fill-opacity="0.68"/><circle cx="497.0" cy="266.4" r="0.7" fill="#ffa030" fill-opacity="0.44"/><circle cx="483.2" cy="198.1" r="0.7" fill="#ffa030" fill-opacity="0.25"/><circle cx="517.1" cy="306.0" r="0.7" fill="#ffa030" fill-opacity="0.25"/><circle cx="535.8" cy="184.7" r="0.7" fill="#ffa030" fill-opacity="0.35"/><circle cx="475.0" cy="212.0" r="0.7" fill="#ffa030" fill-opacity="0.25"/><circle cx="511.0" cy="243.4" r="0.7" fill="#ffa030" fill-opacity="0.68"/><circle cx="512.8" cy="276.9" r="0.7" fill="#ffa030" fill-opacity="0.53"/><circle cx="514.6" cy="270.0" r="0.7" fill="#ffa030" fill-opacity="0.60"/><circle cx="480.5" cy="222.4" r="0.7" fill="#ffa030" fill-opacity="0.25"/><circle cx="520.3" cy="171.1" r="0.7" fill="#ffa030" fill-opacity="0.25"/><circle cx="471.3" cy="221.8" r="0.7" fill="#ffa030" fill-opacity="0.25"/><circle cx="522.7" cy="292.1" r="0.7" fill="#ffa030" fill-opacity="0.44"/><circle cx="512.9" cy="304.0" r="0.7" fill="#ffa030" fill-opacity="0.25"/><circle cx="501.6" cy="274.5" r="0.7" fill="#ffa030" fill-opacity="0.44"/><circle cx="493.6" cy="275.0" r="0.7" fill="#ffa030" fill-opacity="0.35"/><circle cx="530.6" cy="310.5" r="0.7" fill="#ffa030" fill-opacity="0.25"/><circle cx="531.9" cy="206.2" r="0.7" fill="#ffa030" fill-opacity="0.60"/><circle cx="517.0" cy="215.4" r="0.7" fill="#ffa030" fill-opacity="0.60"/><circle cx="539.4" cy="198.3" r="0.7" fill="#ffa030" fill-opacity="0.53"/><circle cx="514.5" cy="218.1" r="0.7" fill="#ffa030" fill-opacity="0.60"/><circle cx="530.1" cy="218.0" r="0.7" fill="#ffa030" fill-opacity="0.73"/><circle cx="488.2" cy="263.2" r="0.7" fill="#ffa030" fill-opacity="0.35"/><circle cx="531.5" cy="302.5" r="0.7" fill="#ffa030" fill-opacity="0.35"/><circle cx="515.2" cy="240.2" r="0.7" fill="#ffa030" fill-opacity="0.73"/><circle cx="480.1" cy="223.7" r="0.7" fill="#ffa030" fill-opacity="0.25"/><circle cx="518.9" cy="181.2" r="0.7" fill="#ffa030" fill-opacity="0.25"/><circle cx="526.7" cy="178.5" r="0.7" fill="#ffa030" fill-opacity="0.25"/><circle cx="540.5" cy="277.7" r="0.7" fill="#ffa030" fill-opacity="0.68"/><circle cx="503.5" cy="179.1" r="0.7" fill="#ffa030" fill-opacity="0.25"/><circle cx="487.7" cy="261.7" r="0.7" fill="#ffa030" fill-opacity="0.35"/><circle cx="542.0" cy="210.1" r="0.7" fill="#ffa030" fill-opacity="0.68"/><circle cx="545" cy="244.5" r="2.2" fill="#dde4ee"/><g mask="url(#lmask)"><rect x="452" y="202" width="30" height="92" filter="url(#noise)"/></g></g>
</svg>
</body></html>
